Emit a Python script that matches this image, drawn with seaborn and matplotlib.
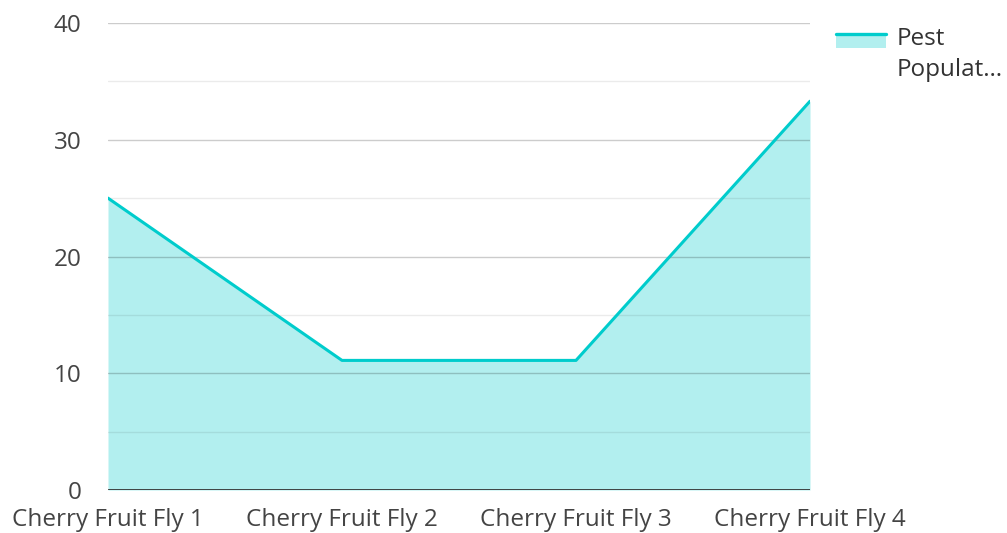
import matplotlib
matplotlib.use("Agg")
import matplotlib.pyplot as plt
import seaborn as sns
import pandas as pd
from matplotlib.lines import Line2D
from matplotlib.patches import Rectangle

categories = ["Cherry Fruit Fly 1", "Cherry Fruit Fly 2", "Cherry Fruit Fly 3", "Cherry Fruit Fly 4"]
pest_population = [25, 11.1, 11.1, 33.3]
y_ticks = [0, 10, 20, 30, 40]
legend_label = "Pest\nPopulat…"

line_color = "#00CCCC"
fill_color = "#B2EFEF"

sns.set_style("white")
plt.rcParams['font.family'] = ['Open Sans', 'DejaVu Sans']


class AreaHandler:
    # legend key: the line sits on top of a light band, lined up with the first text row
    def legend_artist(self, legend, orig_handle, fontsize, handlebox):
        x0, y0 = handlebox.xdescent, handlebox.ydescent
        w, h = handlebox.width, handlebox.height
        y0 = y0 + 13
        top = y0 + h
        rect = Rectangle((x0, y0), w, h, facecolor=fill_color, edgecolor="none",
                         transform=handlebox.get_transform())
        line = Line2D([x0, x0 + w], [top, top], color=line_color, lw=2.4,
                      transform=handlebox.get_transform())
        handlebox.add_artist(rect)
        handlebox.add_artist(line)
        return rect


df = pd.DataFrame({"x": range(len(categories)), "y": pest_population})

fig = plt.figure(figsize=(10.07, 5.33), dpi=100)
ax = fig.add_axes([108 / 1007, 1 - 490 / 533, 702 / 1007, 467 / 533])

ax.fill_between(df["x"], df["y"], 0, color=fill_color, lw=0, zorder=1)
sns.lineplot(data=df, x="x", y="y", ax=ax, color=line_color, lw=2.2, zorder=3)

# grid lines sit on top of the fill
for v in y_ticks[1:]:
    ax.axhline(v, color="black", alpha=0.2, lw=1, zorder=2)
for v in [5, 15, 25, 35]:
    ax.axhline(v, color="black", alpha=0.08, lw=1, zorder=2)
ax.axhline(0, color="#333333", lw=2, zorder=4)

ax.set_xlim(0, len(categories) - 1)
ax.set_ylim(0, 40)
ax.set_xticks(range(len(categories)))
ax.set_xticklabels(categories)
ax.set_yticks(y_ticks)
ax.tick_params(axis="both", length=0, labelsize=17.5, colors="#444444")
ax.tick_params(axis="y", pad=19)
ax.tick_params(axis="x", pad=13)
ax.set_xlabel("")
ax.set_ylabel("")
for s in ax.spines.values():
    s.set_visible(False)

leg = fig.legend(["area"], [legend_label], handler_map={str: AreaHandler()},
                 loc="upper left", bbox_to_anchor=(814 / 1007, 1 - 5 / 533),
                 frameon=False, fontsize=17.5, handlelength=2.05, handleheight=0.45,
                 handletextpad=0.45, labelcolor="#333333")
for t in leg.get_texts():
    t.set_linespacing(1.4)

fig.savefig("out.png", dpi=100)
